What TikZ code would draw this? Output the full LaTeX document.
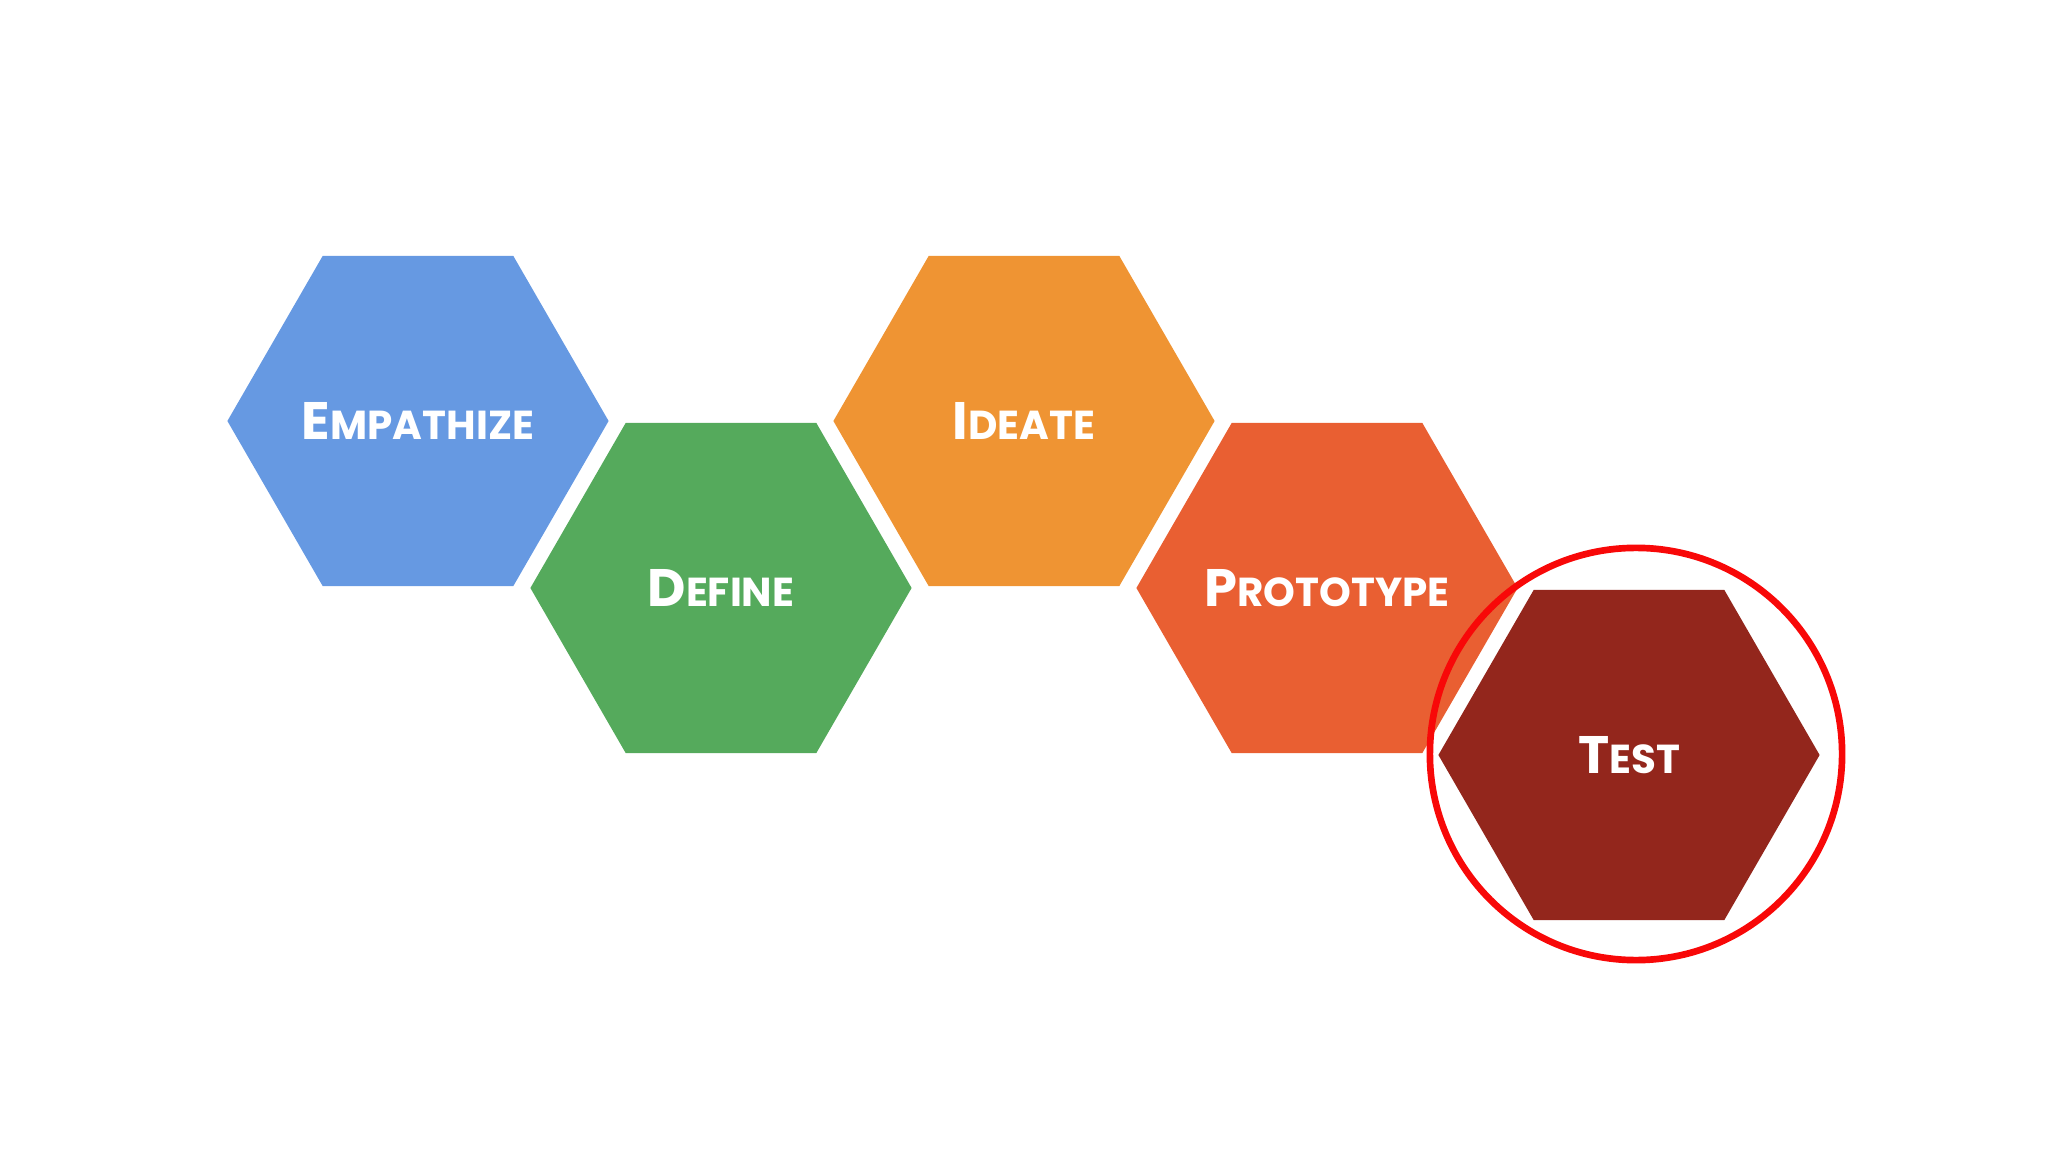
\documentclass[tikz,border=0pt]{standalone}
\usepackage{fontspec}
\setmainfont{Poppins}
\usetikzlibrary{shapes.geometric}

\definecolor{empblue}{HTML}{6699E2}
\definecolor{defgreen}{HTML}{55AA5C}
\definecolor{ideorange}{HTML}{EF9433}
\definecolor{protored}{HTML}{E95F32}
\definecolor{testred}{HTML}{93261C}
\definecolor{ringred}{HTML}{F80808}

\newcommand{\capword}[2]{{\fontsize{15}{18}\selectfont #1}{\fontsize{11.5}{14}\selectfont #2}}

\tikzset{hexa/.style={regular polygon, regular polygon sides=6,
    minimum size=3.81cm, inner sep=0pt},
  hexlabel/.style={text=white, font=\bfseries}}

\begin{document}
\begin{tikzpicture}[x=0.01cm,y=-0.01cm]
    \useasboundingbox (0,0) rectangle (2048,1152);
    \node[hexa, fill=empblue, label={[hexlabel]center:\capword{E}{MPATHIZE}}] (empathize) at (418,421) {};
    \node[hexa, fill=defgreen, label={[hexlabel]center:\capword{D}{EFINE}}] (define) at (721,588) {};
    \node[hexa, fill=ideorange, label={[hexlabel]center:\capword{I}{DEATE}}] (ideate) at (1024,421) {};
    \node[hexa, fill=protored, label={[hexlabel]center:\capword{P}{ROTOTYPE}}] (prototype) at (1327,588) {};
    \node[hexa, fill=testred, label={[hexlabel]center:\capword{T}{EST}}] (test) at (1629,755) {};
    \node[circle, draw=ringred, line width=1.9pt, minimum size=4.12cm] (ring) at (1636,754) {};
\end{tikzpicture}
\end{document}
